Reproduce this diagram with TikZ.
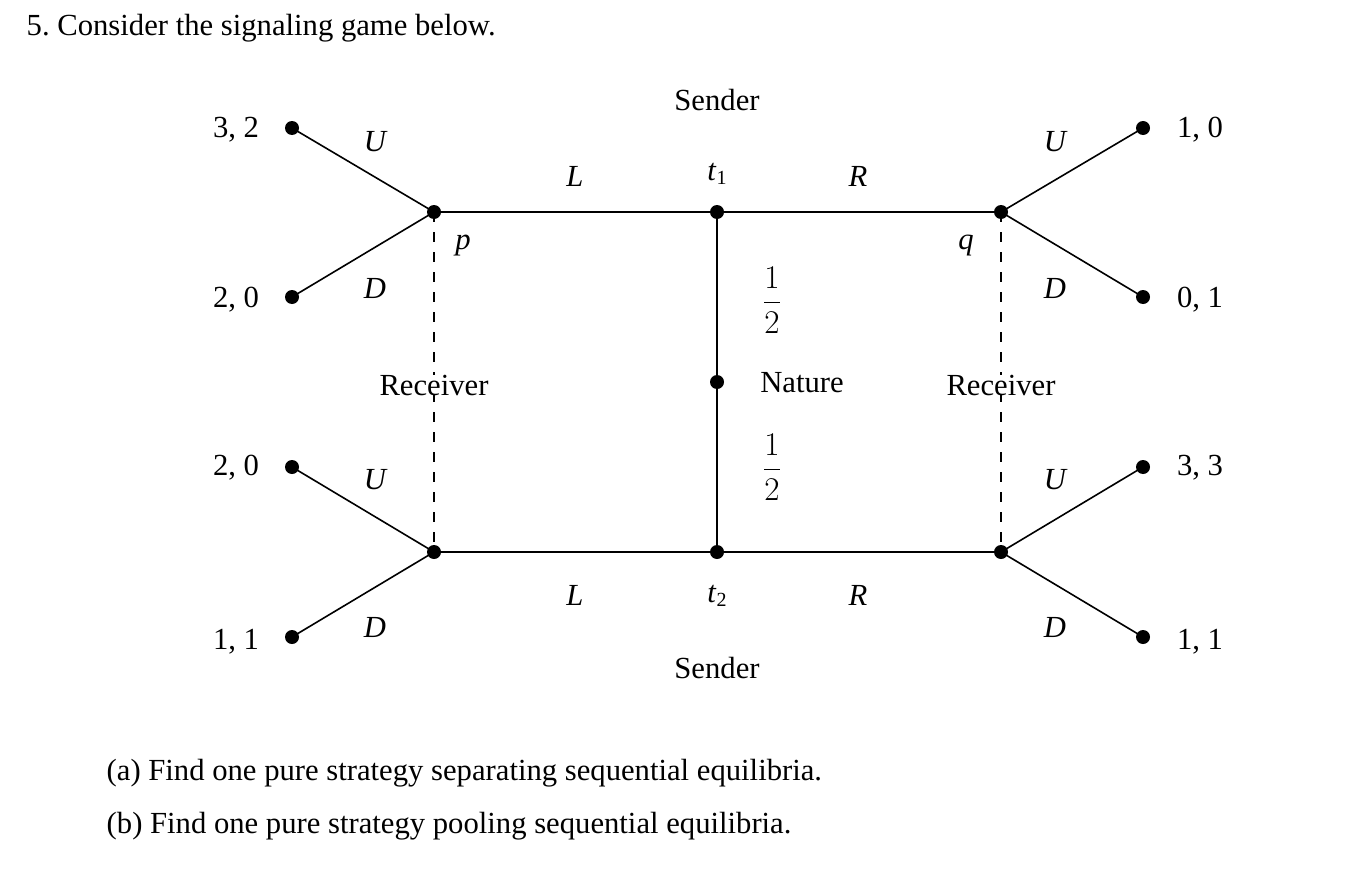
\documentclass[tikz,border=0pt]{standalone}
\usepackage{fontspec}
\setmainfont{Liberation Serif}
\begin{document}
\begin{tikzpicture}[x=0.75pt,y=-0.75pt,
  dot/.style={circle,fill=black,inner sep=0pt,minimum size=10.5pt},
  lbl/.style={font=\fontsize{23}{27}\selectfont},
  mlbl/.style={font=\fontsize{23}{27}\selectfont\itshape},
  edge/.style={line width=1.2pt},
  info/.style={line width=0.9pt,dash pattern=on 7.5pt off 7.5pt}]
\useasboundingbox (0,0) rectangle (1360,892);
\node[lbl,anchor=west] (title) at (22,28) {5.\ Consider the signaling game below.};
% nodes
\node[dot] (lt) at (434,212) {};
\node[dot] (lb) at (434,552) {};
\node[dot] (t1) at (717,212) {};
\node[dot] (n) at (717,382) {};
\node[dot] (t2) at (717,552) {};
\node[dot] (rt) at (1001,212) {};
\node[dot] (rb) at (1001,552) {};
\node[dot] (a1) at (292,128) {};
\node[dot] (a2) at (292,297) {};
\node[dot] (a3) at (292,467) {};
\node[dot] (a4) at (292,637) {};
\node[dot] (b1) at (1143,128) {};
\node[dot] (b2) at (1143,297) {};
\node[dot] (b3) at (1143,467) {};
\node[dot] (b4) at (1143,637) {};
% edges
\draw[edge] (lt.center)--(t1.center)--(rt.center);
\draw[edge] (lb.center)--(t2.center)--(rb.center);
\draw[edge] (t1.center)--(t2.center);
\draw[edge] (a1.center)--(lt.center)--(a2.center);
\draw[edge] (a3.center)--(lb.center)--(a4.center);
\draw[edge] (b1.center)--(rt.center)--(b2.center);
\draw[edge] (b3.center)--(rb.center)--(b4.center);
\draw[info] (lt.center)--(lb.center);
\draw[info] (rt.center)--(rb.center);
% labels
\node[lbl,fill=white,inner sep=0pt] (rl) at (434,385) {Receiver};
\node[lbl,fill=white,inner sep=0pt] (rr) at (1001,385) {Receiver};
\node[lbl] (nat) at (802,383) {Nature};
\node[lbl] (s1) at (717,100) {Sender};
\node[lbl] (s2) at (717,668) {Sender};
\node[lbl] (h1) at (772,300) {$\displaystyle\frac{1}{2}$};
\node[lbl] (h2) at (772,467) {$\displaystyle\frac{1}{2}$};
\node[lbl] (lt1) at (717,174) {\textit{t}\raisebox{-3pt}{\fontsize{15}{15}\selectfont 1}};
\node[lbl] (lt2) at (717,596) {\textit{t}\raisebox{-3pt}{\fontsize{15}{15}\selectfont 2}};
\node[mlbl] (L1) at (575,176) {L};
\node[mlbl] (R1) at (858,176) {R};
\node[mlbl] (L2) at (575,595) {L};
\node[mlbl] (R2) at (858,595) {R};
\node[mlbl] (p) at (463,246) {p};
\node[mlbl] (q) at (966,246) {q};
\node[mlbl] (u1) at (375,142) {U};
\node[mlbl] (d1) at (375,288) {D};
\node[mlbl] (u2) at (375,480) {U};
\node[mlbl] (d2) at (375,627) {D};
\node[mlbl] (u3) at (1055,142) {U};
\node[mlbl] (d3) at (1055,288) {D};
\node[mlbl] (u4) at (1055,480) {U};
\node[mlbl] (d4) at (1055,627) {D};
\node[lbl] (pa1) at (236,130) {3, 2};
\node[lbl] (pa2) at (236,300) {2, 0};
\node[lbl] (pa3) at (236,468) {2, 0};
\node[lbl] (pa4) at (236,642) {1, 1};
\node[lbl] (pb1) at (1200,130) {1, 0};
\node[lbl] (pb2) at (1200,300) {0, 1};
\node[lbl] (pb3) at (1200,468) {3, 3};
\node[lbl] (pb4) at (1200,642) {1, 1};
\node[lbl,anchor=west] (qa) at (102,773) {(a)\ Find one pure strategy separating sequential equilibria.};
\node[lbl,anchor=west] (qb) at (102,826) {(b)\ Find one pure strategy pooling sequential equilibria.};
\end{tikzpicture}
\end{document}
